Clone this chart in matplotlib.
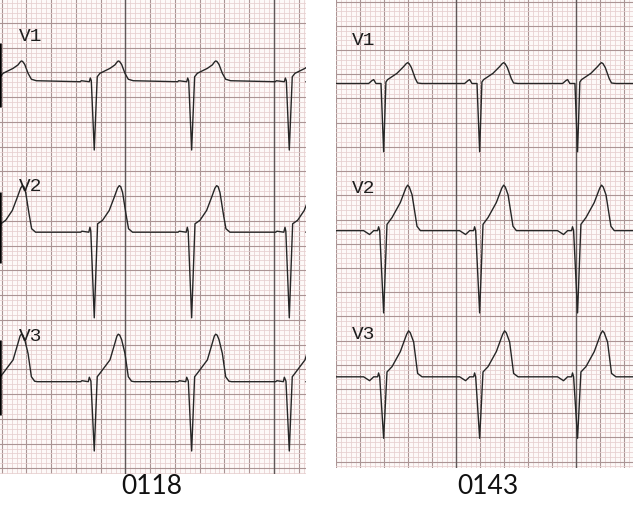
import matplotlib
matplotlib.use("Agg")
import matplotlib.pyplot as plt
from matplotlib.ticker import MultipleLocator
import numpy as np

# beat templates: ms relative to the S nadir, mV relative to baseline
left_v1_ms = [-113, -105, -40, -32, -24, 0, 24, 46, 127, 167, 185, 194, 204, 221, 248, 275, 315]
left_v1_mv = [0.0, 0.02, 0.0, 0.075, 0.02, -1.38, 0.10, 0.17, 0.27, 0.34, 0.40, 0.42, 0.41, 0.35, 0.17, 0.05, 0.02]

left_v2_ms = [-110, -100, -44, -35, -28, 0, 27, 67, 121, 162, 188, 202, 214, 229, 256, 277, 309]
left_v2_mv = [0.0, 0.02, 0.0, 0.10, 0.02, -1.73, 0.17, 0.24, 0.44, 0.71, 0.89, 0.94, 0.92, 0.80, 0.37, 0.07, 0.0]

left_v3_ms = [-110, -100, -48, -40, -27, 0, 24, 46, 127, 167, 183, 194, 206, 221, 248, 275, 301, 323]
left_v3_mv = [0.0, 0.02, 0.0, 0.09, 0.01, -1.40, 0.10, 0.17, 0.44, 0.78, 0.92, 0.96, 0.94, 0.85, 0.57, 0.10, 0.01, 0.0]

right_v1_ms = [-125, -97, -83, -64, -22, 0, 19, 33, 111, 167, 188, 200, 212, 231, 264, 283, 319]
right_v1_mv = [0.0, 0.06, 0.08, 0.0, 0.0, -1.41, 0.03, 0.08, 0.21, 0.35, 0.41, 0.43, 0.41, 0.33, 0.10, 0.01, 0.0]

right_v2_ms = [-167, -117, -83, -50, -42, -33, 0, 28, 70, 139, 185, 200, 214, 237, 278, 306]
right_v2_mv = [0.0, -0.08, 0.0, 0.0, 0.08, 0.0, -1.70, 0.13, 0.27, 0.58, 0.88, 0.94, 0.90, 0.74, 0.09, 0.0]

right_v3_ms = [-167, -117, -83, -50, -42, -33, 0, 28, 70, 139, 192, 208, 222, 250, 283, 320]
right_v3_mv = [0.0, -0.08, 0.0, 0.0, 0.08, 0.0, -1.27, 0.10, 0.21, 0.52, 0.88, 0.95, 0.91, 0.72, 0.07, 0.0]

# S nadir times (s) and lead baselines (mV on the paper)
left_beats = [-0.035, 0.748, 1.535, 2.324]
right_beats = [0.394, 1.194, 2.010]
baselines = [7.81, 4.77, 1.75]
leads = ["V1", "V2", "V3"]

left_dark_lines = [1.0, 2.2]
right_dark_lines = [1.0, 2.0]
left_cal_marks = [(7.30, 8.59), (4.15, 5.58), (1.08, 2.59)]

PAPER = "#fdf9f8"
MINOR = "#e6cfcf"
MAJOR = "#ab9494"
DARK = "#605858"
INK = "#262626"


def build_trace(beats, ms, mv, base, t0, t1):
    xs, ys = [t0], [base]
    for b in beats:
        for dt, v in zip(ms, mv):
            xs.append(b + dt / 1000.0)
            ys.append(base + v)
    xs.append(t1)
    ys.append(base)
    return np.array(xs), np.array(ys)


def paper(ax, xlim, ylim, dark):
    ax.set_facecolor(PAPER)
    ax.set_xlim(*xlim)
    ax.set_ylim(*ylim)
    ax.xaxis.set_major_locator(MultipleLocator(0.2))
    ax.xaxis.set_minor_locator(MultipleLocator(0.04))
    ax.yaxis.set_major_locator(MultipleLocator(0.5))
    ax.yaxis.set_minor_locator(MultipleLocator(0.1))
    ax.grid(which="minor", color=MINOR, lw=0.55)
    ax.grid(which="major", color=MAJOR, lw=0.8)
    ax.set_axisbelow(True)
    ax.tick_params(which="both", length=0, labelbottom=False, labelleft=False)
    for s in ax.spines.values():
        s.set_visible(False)
    for x in dark:
        ax.axvline(x, color=DARK, lw=1.0, zorder=1)


fig = plt.figure(figsize=(6.4, 5.19), dpi=100)

W, H = 640, 519
axl = fig.add_axes([0 / W, 1 - 474 / H, 306 / W, 474 / H])
axr = fig.add_axes([336 / W, 1 - 468 / H, 297 / W, 468 / H])

left_xlim = (-0.0137, 2.459)
left_ylim = (-0.115, 9.461)
right_xlim = (-0.003, 2.472)
right_ylim = (-0.134, 9.535)

paper(axl, left_xlim, left_ylim, left_dark_lines)
paper(axr, right_xlim, right_ylim, right_dark_lines)

left_templates = [(left_v1_ms, left_v1_mv), (left_v2_ms, left_v2_mv), (left_v3_ms, left_v3_mv)]
right_templates = [(right_v1_ms, right_v1_mv), (right_v2_ms, right_v2_mv), (right_v3_ms, right_v3_mv)]

# typewriter style lead names; serif fallback if the mono face is missing
label_font = dict(family=["Liberation Mono", "Liberation Serif", "DejaVu Serif"],
                  fontsize=14, color="#1e1e1e", ha="center", va="center", zorder=4)

for (ms, mv), base, name in zip(left_templates, baselines, leads):
    x, y = build_trace(left_beats, ms, mv, base, *left_xlim)
    axl.plot(x, y, color=INK, lw=1.0, zorder=3, solid_joinstyle="round")
    axl.text(0.237, base + 0.92, name, **label_font)

for lo, hi in left_cal_marks:
    axl.vlines(-0.011, lo, hi, color="black", lw=1.8, zorder=3)

for (ms, mv), base, name in zip(right_templates, baselines, leads):
    x, y = build_trace(right_beats, ms, mv, base, *right_xlim)
    axr.plot(x, y, color=INK, lw=1.0, zorder=3, solid_joinstyle="round")
    axr.text(0.225, base + 0.88, name, **label_font)

fig.text(151.7 / W, 1 - 486 / H, "0118", ha="center", va="center",
         family="Lato", fontsize=19, color="#111111")
fig.text(488.3 / W, 1 - 486 / H, "0143", ha="center", va="center",
         family="Lato", fontsize=19, color="#111111")

fig.savefig("out.png", dpi=100, facecolor="white")
